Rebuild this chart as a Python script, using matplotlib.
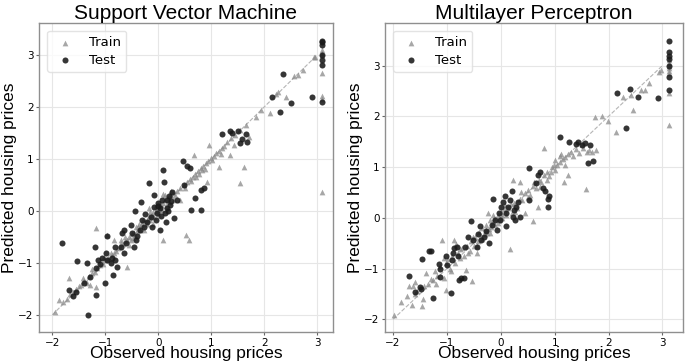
import matplotlib
matplotlib.use("Agg")
import matplotlib.pyplot as plt
import numpy as np

# (observed, predicted) pairs
svm_train = [
    (-1.95, -1.95), (-1.87, -1.71), (-1.8, -1.75), (-1.72, -1.7), (-1.69, -1.29), (-1.66, -1.6),
    (-1.6, -1.56), (-1.55, -1.5), (-1.5, -1.45), (-1.45, -1.42), (-1.4, -1.35), (-1.35, -1.38),
    (-1.3, -1.25), (-1.29, -1.42), (-1.25, -1.2), (-1.2, -1.18), (-1.18, -0.32), (-1.18, -1.47),
    (-1.15, -1.1), (-1.1, -1.05), (-1.05, -1.02), (-1.0, -0.95), (-0.97, -0.46), (-0.95, -0.9),
    (-0.92, -0.92), (-0.88, -0.85), (-0.84, -0.56), (-0.84, -0.8), (-0.8, -0.78), (-0.76, -0.72),
    (-0.72, -0.7), (-0.7, -0.62), (-0.66, -0.64), (-0.62, -0.58), (-0.58, -1.07), (-0.58, -0.55),
    (-0.55, -0.5), (-0.52, -0.55), (-0.5, -0.45), (-0.46, -0.42), (-0.44, -0.48), (-0.4, -0.38),
    (-0.38, -0.3), (-0.35, -0.36), (-0.32, -0.28), (-0.3, -0.25), (-0.27, -0.37), (-0.25, -0.2),
    (-0.22, -0.25), (-0.2, -0.15), (-0.18, -0.1), (-0.15, -0.18), (-0.12, -0.08), (-0.1, -0.02),
    (-0.08, -0.12), (-0.05, 0.0), (-0.03, 0.05), (0.0, -0.05), (0.02, 0.08), (0.05, 0.12),
    (0.08, 0.02), (0.09, -0.56), (0.1, 0.15), (0.12, 0.22), (0.15, 0.1), (0.18, 0.25),
    (0.2, 0.18), (0.22, 0.3), (0.25, 0.28), (0.28, 0.35), (0.3, 0.22), (0.35, 0.38),
    (0.42, 0.21), (0.42, 0.45), (0.48, 0.5), (0.52, -0.46), (0.55, 0.55), (0.58, -0.56),
    (0.6, 0.62), (0.65, 0.66), (0.67, 1.08), (0.7, 0.72), (0.75, 0.76), (0.77, 0.72),
    (0.8, 0.82), (0.85, 0.86), (0.9, 0.92), (0.92, 0.56), (0.95, 0.96), (0.96, 1.27),
    (1.0, 1.02), (1.05, 1.06), (1.1, 1.12), (1.14, 0.85), (1.15, 1.16), (1.2, 1.22),
    (1.25, 1.26), (1.3, 1.32), (1.36, 1.08), (1.38, 1.4), (1.43, 1.27), (1.45, 1.46),
    (1.55, 0.53), (1.55, 1.56), (1.63, 0.85), (1.65, 1.66), (1.71, 1.43), (1.84, 1.81),
    (1.95, 1.94), (2.12, 1.88), (2.22, 2.25), (2.27, 2.29), (2.42, 2.2), (2.56, 2.6),
    (2.65, 2.62), (2.73, 2.71), (2.94, 2.97), (2.97, 2.97), (3.1, 3.1), (3.1, 3.05),
    (3.1, 3.0), (3.1, 2.65), (3.1, 2.22), (3.1, 2.15), (3.1, 0.37),
    (-0.62, -0.5), (-0.48, -0.52), (-0.36, -0.25), (-0.28, -0.18), (-0.16, -0.02), (-0.04, 0.1),
    (0.06, 0.02), (0.13, 0.3), (0.24, 0.38), (0.32, 0.3), (-0.7, -0.55), (-0.9, -0.8),
    (-1.02, -0.88), (-1.25, -1.12), (-1.42, -1.3), (0.5, 0.45), (0.62, 0.58), (0.72, 0.65),
    (0.82, 0.78), (0.88, 0.8), (1.02, 0.98), (1.18, 1.1), (-0.42, -0.3), (-0.55, -0.65),
    (-0.18, 0.05), (0.1, 0.32), (-0.1, -0.25),
]
svm_test = [
    (-1.81, -0.62), (-1.54, -0.96), (-1.69, -1.53), (-1.56, -1.57), (-1.6, -1.63), (-1.4, -1.38),
    (-1.35, -1.0), (-1.33, -2.0), (-1.29, -1.28), (-1.19, -0.69), (-1.17, -1.62), (-1.18, -1.1),
    (-1.09, -1.02), (-1.01, -1.38), (-0.99, -0.81), (-0.97, -0.49), (-1.06, -0.91), (-0.96, -0.94),
    (-0.87, -0.91), (-0.82, -0.69), (-0.77, -1.07), (-0.85, -1.23), (-0.68, -0.43), (-0.65, -0.37),
    (-0.64, -0.81), (-0.52, -0.28), (-0.49, -0.43), (-0.46, -0.69), (-0.43, -0.01), (-0.4, -0.49),
    (-0.35, -0.37), (-0.33, 0.18), (-0.3, -0.17), (-0.27, -0.3), (-0.21, -0.21), (-0.18, 0.53),
    (-0.14, -0.12), (-0.11, -0.3), (-0.08, 0.08), (-0.07, 0.31), (-0.05, -0.17), (-0.02, -0.04),
    (-0.01, 0.15), (0.03, -0.37), (0.04, 0.05), (0.08, 0.21), (0.09, 0.78), (0.11, 0.56),
    (0.12, -0.04), (0.14, -0.21), (0.16, 0.06), (0.17, 0.21), (0.2, 0.28), (0.23, 0.12),
    (0.26, 0.37), (0.3, -0.14), (0.36, 0.21), (0.47, 0.97), (0.48, 0.5), (0.55, 0.86),
    (0.61, 0.82), (0.7, 0.24), (0.8, 0.4), (0.86, 0.44), (0.8, 0.01), (0.62, 0.02),
    (-0.6, -0.62), (-0.25, -0.05), (0.0, 0.1), (0.05, -0.1), (0.18, 0.0), (0.25, 0.2),
    (-0.42, -0.55), (-0.7, -0.7), (-0.9, -1.0), (-1.13, -0.95), (-0.82, -0.95),
    (1.21, 1.49), (1.36, 1.53), (1.4, 1.5), (1.5, 1.53), (1.55, 1.3), (1.65, 1.49),
    (1.67, 1.33), (1.58, 1.38), (2.36, 2.63), (2.15, 2.2), (2.31, 1.91), (2.51, 2.07),
    (2.91, 2.2), (3.1, 3.28), (3.1, 3.25), (3.1, 3.2), (3.1, 3.01), (3.1, 2.91),
    (3.1, 2.81), (3.1, 2.09),
]
mlp_train = [
    (-1.98, -1.91), (-1.85, -1.65), (-1.75, -1.55), (-1.7, -1.35), (-1.64, -1.72), (-1.6, -1.5),
    (-1.63, -1.34), (-1.6, -1.26), (-1.55, -1.45), (-1.47, -1.74), (-1.45, -1.61), (-1.42, -1.35),
    (-1.38, -1.09), (-1.35, -1.3), (-1.3, -1.2), (-1.26, -1.22), (-1.22, -1.05), (-1.18, -1.15),
    (-1.12, -0.95), (-1.09, -0.44), (-1.06, -1.19), (-1.02, -0.9), (-1.01, -1.42), (-0.98, -0.82),
    (-0.95, -1.0), (-0.9, -0.75), (-0.86, -0.44), (-0.85, -0.9), (-0.83, -0.52), (-0.8, -0.7),
    (-0.75, -0.8), (-0.72, -0.6), (-0.68, -0.75), (-0.65, -1.03), (-0.62, -0.55), (-0.58, -0.65),
    (-0.54, -1.24), (-0.55, -0.45), (-0.5, -0.55), (-0.47, -0.38), (-0.44, -0.7), (-0.42, -0.45),
    (-0.4, -0.28), (-0.37, -0.35), (-0.34, -0.2), (-0.3, -0.32), (-0.27, -0.15), (-0.25, -0.3),
    (-0.24, 0.09), (-0.22, -0.22), (-0.2, -0.05), (-0.18, -0.18), (-0.15, -0.08), (-0.12, 0.0),
    (-0.1, -0.15), (-0.06, 0.05), (-0.03, -0.05), (0.0, 0.12), (0.03, 0.0), (0.06, 0.18),
    (0.1, 0.05), (0.14, 0.2), (0.17, -0.61), (0.2, 0.1), (0.22, 0.75), (0.25, 0.3),
    (0.3, 0.2), (0.35, 0.71), (0.35, 0.38), (0.4, 0.35), (0.45, 0.09), (0.45, 0.48),
    (0.5, 0.55), (0.55, 0.45), (0.59, -0.07), (0.6, 0.62), (0.65, 0.58), (0.69, 0.22),
    (0.7, 0.75), (0.75, 0.7), (0.8, 1.37), (0.8, 0.85), (0.85, 0.9), (0.9, 0.82),
    (0.94, 0.91), (0.95, 1.0), (1.0, 1.14), (1.0, 0.95), (1.05, 1.05), (1.09, 1.21),
    (1.1, 1.1), (1.15, 1.15), (1.17, 0.71), (1.2, 1.2), (1.25, 0.84), (1.25, 1.25),
    (1.3, 1.3), (1.34, 1.21), (1.4, 1.35), (1.46, 1.27), (1.5, 1.45), (1.58, 0.56),
    (1.63, 1.34), (1.77, 1.33), (1.74, 1.99), (1.87, 2.01), (1.99, 1.9), (2.13, 1.7),
    (2.26, 2.39), (2.46, 2.13), (2.42, 2.42), (2.6, 2.52), (2.67, 2.52), (2.75, 2.65),
    (2.94, 2.88), (2.98, 2.91), (3.12, 3.1), (3.12, 3.05), (3.12, 3.0), (3.12, 2.95),
    (3.12, 2.9), (3.12, 2.85), (3.12, 2.45), (3.12, 1.82),
    (-0.75, -0.62), (-0.6, -0.7), (-0.52, -0.38), (-0.45, -0.55), (-0.35, -0.42), (-0.28, -0.25),
    (-0.2, -0.3), (-0.14, 0.05), (-0.05, -0.1), (0.02, 0.05), (0.08, 0.25), (0.18, 0.28),
    (0.27, 0.12), (0.38, 0.5), (0.5, 0.4), (0.62, 0.7), (0.72, 0.6), (0.85, 0.75),
    (0.98, 1.05), (1.12, 1.25), (1.2, 1.05), (-1.2, -1.3), (-1.05, -0.8), (-0.92, -1.05),
    (1.52, 1.38), (1.6, 1.3), (1.7, 1.3),
]
mlp_test = [
    (-1.7, -1.15), (-1.46, -0.82), (-1.6, -1.46), (-1.5, -1.36), (-1.49, -1.41), (-1.33, -0.65),
    (-1.29, -0.65), (-1.25, -1.59), (-1.15, -0.91), (-1.13, -1.01), (-1.13, -1.17), (-1.01, -0.76),
    (-1.0, -0.93), (-0.93, -1.49), (-0.9, -0.83), (-0.89, -0.7), (-0.86, -0.6), (-0.81, -0.57),
    (-0.79, -0.76), (-0.77, -1.23), (-0.73, -1.19), (-0.69, -1.19), (-0.67, -0.57), (-0.56, -0.07),
    (-0.61, -0.37), (-0.52, -0.44), (-0.45, -0.57), (-0.42, -0.31), (-0.39, -0.17), (-0.36, -0.44),
    (-0.32, -0.37), (-0.27, -0.27), (-0.22, -0.5), (-0.17, -0.14), (-0.14, 0.37), (-0.1, -0.04),
    (-0.08, -0.24), (-0.03, 0.09), (-0.01, -0.04), (0.01, 0.22), (0.04, 0.32), (0.07, 0.42),
    (0.09, 0.09), (0.1, -0.17), (0.13, 0.22), (0.17, 0.35), (0.2, 0.52), (0.22, 0.02),
    (0.24, 0.16), (0.26, -0.04), (0.29, 0.22), (0.32, 0.32), (0.35, 0.01), (0.52, 0.98),
    (0.52, 0.35), (0.66, 0.69), (0.69, 0.84), (0.72, 0.91), (0.78, 0.58), (0.82, 0.52),
    (0.88, 0.37), (0.9, 0.43), (0.88, 0.22), (1.09, 1.6), (1.27, 1.5), (1.4, 1.46),
    (1.43, 1.5), (1.5, 1.44), (1.56, 1.47), (1.62, 1.07), (1.71, 1.11), (1.65, 1.43),
    (2.16, 2.45), (2.39, 2.53), (2.55, 2.38), (2.33, 1.76), (2.92, 2.37), (3.12, 3.48),
    (3.12, 3.26), (3.12, 3.18), (3.12, 3.12), (3.12, 3.0), (3.12, 2.78), (3.12, 2.52),
]

titles = ["Support Vector Machine", "Multilayer Perceptron"]
identity_range = [-2, 3]
xlims = [(-2.25, 3.3), (-2.15, 3.38)]
ylims = [(-2.33, 3.62), (-2.25, 3.84)]
ticks = [-2, -1, 0, 1, 2, 3]

fig = plt.figure(figsize=(6.85, 3.64), dpi=100)
axes = [fig.add_axes([0.057, 0.088, 0.429, 0.849]),
        fig.add_axes([0.562, 0.088, 0.435, 0.849])]

for ax, title, train, test, xl, yl in zip(axes, titles, [svm_train, mlp_train],
                                         [svm_test, mlp_test], xlims, ylims):
    tr = np.array(train)
    te = np.array(test)
    ax.plot(identity_range, identity_range, ls="--", color="#b5b5b5", lw=0.8, zorder=1)
    ax.scatter(tr[:, 0], tr[:, 1], marker="^", s=17, color="#8a8a8a", alpha=0.75,
               linewidths=0, label="Train", zorder=2)
    ax.scatter(te[:, 0], te[:, 1], marker="o", s=19, color="#1a1a1a", alpha=0.88,
               linewidths=0, label="Test", zorder=3)
    ax.set_xlim(xl)
    ax.set_ylim(yl)
    ax.set_xticks(ticks)
    ax.set_yticks(ticks)
    ax.grid(True, color="#e6e6e6", lw=0.8)
    ax.set_axisbelow(True)
    for sp in ax.spines.values():
        sp.set_color("#8f8f8f")
        sp.set_linewidth(1.0)
    ax.tick_params(labelsize=7.5, length=2.5, pad=1.5, color="#666666")
    ax.set_title(title, fontsize=15, family="Liberation Sans", pad=3)
    ax.set_xlabel("Observed housing prices", fontsize=12.5, family="Liberation Sans", labelpad=-1)
    ax.set_ylabel("Predicted housing prices", fontsize=12.5, family="Liberation Sans", labelpad=1)
    leg = ax.legend(loc="upper left", fontsize=9.5, frameon=True, borderaxespad=0.6,
                    labelspacing=0.35)
    leg.get_frame().set_edgecolor("#dddddd")

fig.savefig("out.png", dpi=100)
